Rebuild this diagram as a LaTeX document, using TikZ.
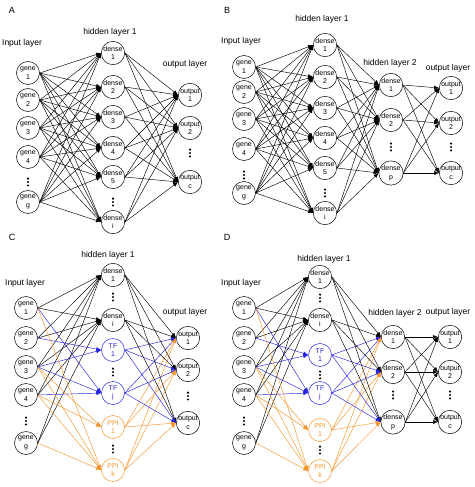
\documentclass[tikz,border=0pt]{standalone}
\usepackage{fontspec}
\setmainfont{Liberation Sans}
\usetikzlibrary{arrows.meta}
\definecolor{tfblue}{RGB}{35,35,225}
\definecolor{ppiorange}{RGB}{245,150,45}
\newcommand{\unitfont}{\fontsize{7}{8.5}\selectfont}
\newcommand{\layerfont}{\fontsize{8.5}{10}\selectfont}
\tikzset{
  neuron/.style={draw,circle,minimum size=23pt,inner sep=0pt,align=center,font=\unitfont,line width=0.5pt},
  tfunit/.style={neuron,draw=tfblue,text=tfblue},
  ppiunit/.style={neuron,draw=ppiorange,text=ppiorange},
  conn/.style={-{Latex[length=5pt,width=4pt]},line width=0.45pt},
  layer/.style={font=\layerfont},
  panel/.style={font=\fontsize{9}{10}\selectfont},
  moredots/.style={minimum width=4pt,minimum height=11pt,inner sep=0pt,
    path picture={\foreach \d in {-3.4,0,3.4}
      \fill[#1] (path picture bounding box.center) ++(0,\d) circle (1.15pt);}},
  moredots/.default=black
}
\begin{document}
\begin{tikzpicture}[x=1pt,y=-1pt]
\useasboundingbox (0,0) rectangle (474,487);

% panel A
\node[panel] (pA) at (12,10) {A};
\node[layer] (inA) at (22,43) {Input layer};
\node[layer] (hidA) at (110,32) {hidden layer 1};
\node[layer] (outA) at (185,64) {output layer};
\foreach \n/\y in {1/73,2/100,3/128,4/157,g/202}
  \node[neuron] (ag\n) at (28,\y) {gene\\\n};
\node[moredots] (agdots) at (28,182) {};
\foreach \n/\y in {1/53,2/87,3/117,4/148,5/177,i/222}
  \node[neuron] (ad\n) at (113,\y) {dense\\\n};
\node[moredots] (addots) at (113,202) {};
\foreach \n/\y in {1/95,2/128,c/182}
  \node[neuron] (ao\n) at (190,\y) {output\\\n};
\node[moredots] (aodots) at (190,153) {};

\foreach \s in {1,2,3,4,g}
  \foreach \t in {1,2,3,4,5,i}
    \draw[conn] (ag\s.east) -- (ad\t.west);
\foreach \s in {1,2,3,4,5,i}
  \foreach \t in {1,2,c}
    \draw[conn] (ad\s.east) -- (ao\t.west);

% panel B
\node[panel] (pB) at (227,10) {B};
\node[layer] (inB) at (241,41) {Input layer};
\node[layer] (hidB) at (322,19) {hidden layer 1};
\node[layer] (hidBB) at (390,63) {hidden layer 2};
\node[layer] (outB) at (448,68) {output layer};
\foreach \n/\y in {1/67,2/92,3/119,4/149,g/193}
  \node[neuron] (bg\n) at (244,\y) {gene\\\n};
\node[moredots] (bgdots) at (244,175) {};
\foreach \n/\y in {1/45,2/77,3/108,4/138,5/168,i/213}
  \node[neuron] (bd\n) at (325,\y) {dense\\\n};
\node[moredots] (bddots) at (325,193) {};
\foreach \n/\y in {1/85,2/120,p/173}
  \node[neuron] (be\n) at (391,\y) {dense\\\n};
\node[moredots] (bedots) at (391,147) {};
\foreach \n/\y in {1/88,2/123,c/173}
  \node[neuron] (bo\n) at (451,\y) {output\\\n};
\node[moredots] (bodots) at (451,147) {};

\foreach \s in {1,2,3,4,g}
  \foreach \t in {1,2,3,4,5,i}
    \draw[conn] (bg\s.east) -- (bd\t.west);
\foreach \s in {1,2,3,4,5,i}
  \foreach \t in {1,2,p}
    \draw[conn] (bd\s.east) -- (be\t.west);
\foreach \s in {1,2,p}
  \foreach \t in {1,2,c}
    \draw[conn] (be\s.east) -- (bo\t.west);

% panel C
\node[panel] (pC) at (12,237) {C};
\node[layer] (inC) at (25,283) {Input layer};
\node[layer] (hidC) at (108,255) {hidden layer 1};
\node[layer] (outC) at (185,312) {output layer};
\foreach \n/\y in {1/308,2/338,3/367,4/395,g/443}
  \node[neuron] (cg\n) at (26,\y) {gene\\\n};
\node[moredots] (cgdots) at (26,421) {};
\node[neuron] (cd1) at (113,275) {dense\\1};
\node[moredots] (cddots) at (113,297) {};
\node[neuron] (cdi) at (113,320) {dense\\i};
\node[tfunit] (ct1) at (113,350) {TF\\1};
\node[moredots] (ctdots) at (113,372) {};
\node[tfunit] (ctj) at (113,393) {TF\\j};
\node[ppiunit] (cp1) at (113,427) {PPI\\1};
\node[moredots] (cpdots) at (113,449) {};
\node[ppiunit] (cpk) at (113,470) {PPI\\k};
\foreach \n/\y in {1/338,2/370,c/423}
  \node[neuron] (co\n) at (188,\y) {output\\\n};
\node[moredots] (codots) at (188,396) {};

\foreach \s in {1,2,3,4,g}
  \foreach \t in {1,i}
    \draw[conn] (cg\s.east) -- (cd\t.west);
\foreach \s/\t in {1/j,2/1,3/1,3/j,4/j}
  \draw[conn,tfblue] (cg\s.east) -- (ct\t.west);
\foreach \s/\t in {1/k,3/1,3/k,4/1,4/k,g/k}
  \draw[conn,ppiorange] (cg\s.east) -- (cp\t.west);
\foreach \t in {1,2,c} {
  \draw[conn] (cd1.east) -- (co\t.west);
  \draw[conn] (cdi.east) -- (co\t.west);
  \draw[conn,tfblue] (ct1.east) -- (co\t.west);
  \draw[conn,tfblue] (ctj.east) -- (co\t.west);
  \draw[conn,ppiorange] (cp1.east) -- (co\t.west);
  \draw[conn,ppiorange] (cpk.east) -- (co\t.west);
}

% panel D
\node[panel] (pD) at (227,237) {D};
\node[layer] (inD) at (241,283) {Input layer};
\node[layer] (hidD) at (324,259) {hidden layer 1};
\node[layer] (hidDD) at (395,313) {hidden layer 2};
\node[layer] (outD) at (448,312) {output layer};
\foreach \n/\y in {1/308,2/338,3/367,4/395,g/443}
  \node[neuron] (dg\n) at (244,\y) {gene\\\n};
\node[moredots] (dgdots) at (244,421) {};
\node[neuron] (dd1) at (320,277) {dense\\1};
\node[moredots] (dddots) at (320,298) {};
\node[neuron] (ddi) at (320,320) {dense\\i};
\node[tfunit] (dt1) at (320,355) {TF\\1};
\node[moredots] (dtdots) at (320,375) {};
\node[tfunit] (dtj) at (320,393) {TF\\j};
\node[ppiunit] (dp1) at (320,430) {PPI\\1};
\node[moredots] (dpdots) at (320,450) {};
\node[ppiunit] (dpk) at (320,471) {PPI\\k};
\foreach \n/\y in {1/337,2/372,p/422}
  \node[neuron] (de\n) at (393,\y) {dense\\\n};
\node[moredots] (dedots) at (393,395) {};
\foreach \n/\y in {1/337,2/372,c/422}
  \node[neuron] (do\n) at (450,\y) {output\\\n};
\node[moredots] (dodots) at (450,395) {};

\foreach \s in {1,2,3,4,g}
  \foreach \t in {1,i}
    \draw[conn] (dg\s.east) -- (dd\t.west);
\foreach \s/\t in {1/j,2/1,3/1,3/j,4/j}
  \draw[conn,tfblue] (dg\s.east) -- (dt\t.west);
\foreach \s/\t in {1/k,3/1,3/k,4/1,4/k,g/k}
  \draw[conn,ppiorange] (dg\s.east) -- (dp\t.west);
\foreach \t in {1,2,p} {
  \draw[conn] (dd1.east) -- (de\t.west);
  \draw[conn] (ddi.east) -- (de\t.west);
  \draw[conn,tfblue] (dt1.east) -- (de\t.west);
  \draw[conn,tfblue] (dtj.east) -- (de\t.west);
  \draw[conn,ppiorange] (dp1.east) -- (de\t.west);
  \draw[conn,ppiorange] (dpk.east) -- (de\t.west);
}
\foreach \s in {1,2,p}
  \foreach \t in {1,2,c}
    \draw[conn] (de\s.east) -- (do\t.west);
\end{tikzpicture}
\end{document}
